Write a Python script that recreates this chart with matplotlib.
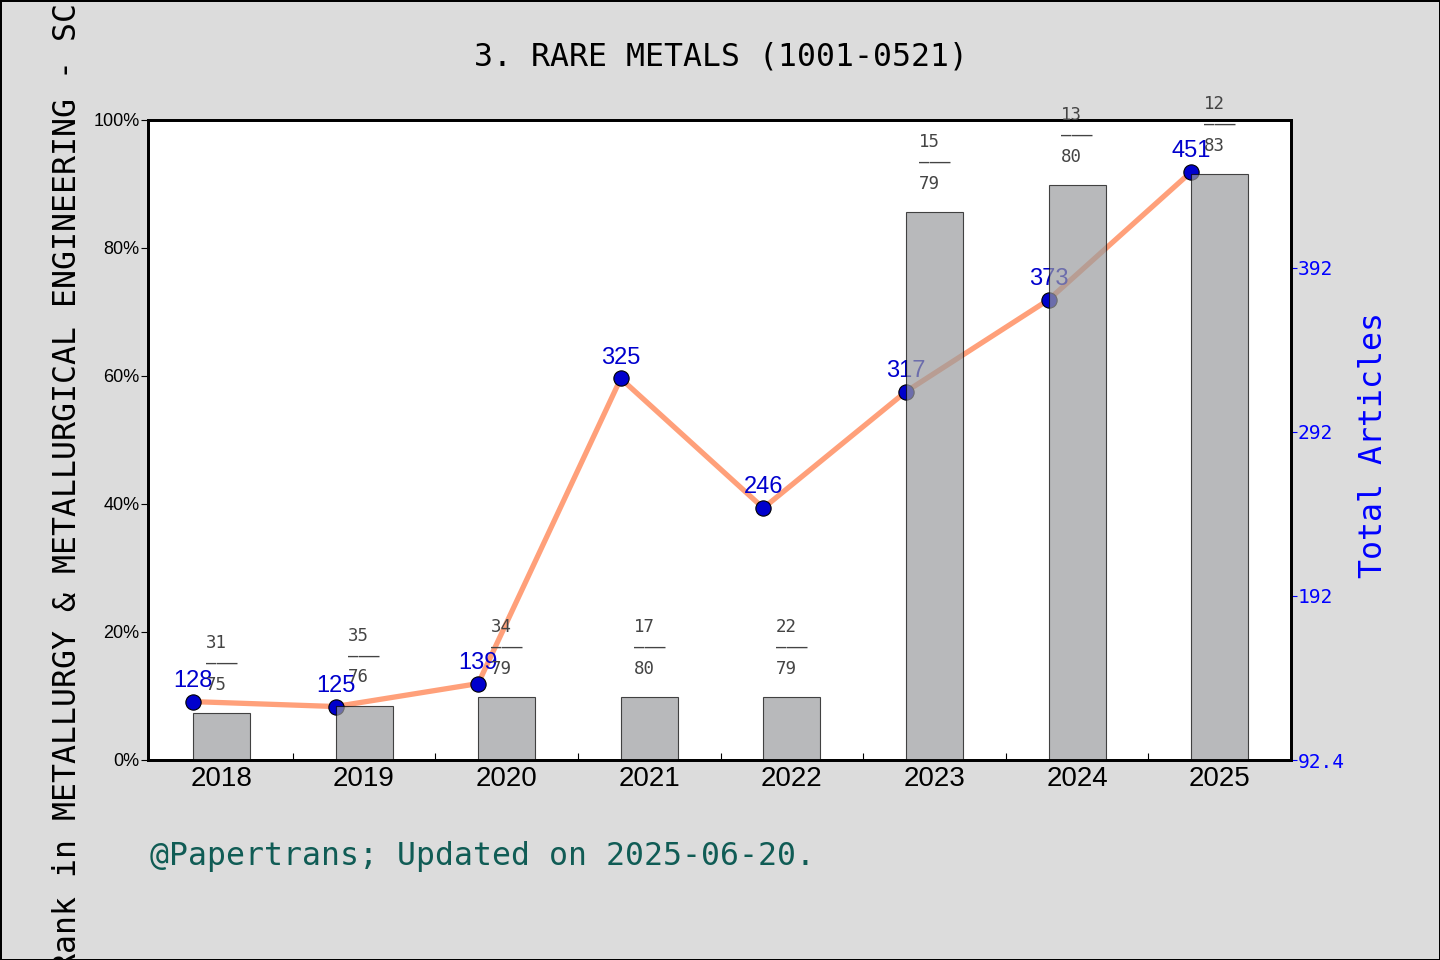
import numpy as np
import matplotlib.pyplot as plt

# chart data
years = ['2018', '2019', '2020', '2021', '2022', '2023', '2024', '2025']
rank_pct = [7.3, 8.5, 9.8, 9.8, 9.8, 85.6, 89.8, 91.5]
ranks = [31, 35, 34, 17, 22, 15, 13, 12]
totals_in_cat = [75, 76, 79, 80, 79, 79, 80, 83]
articles = [128, 125, 139, 325, 246, 317, 373, 451]

right_ticks = [92.4, 192.4, 292.4, 392.4]
right_labels = ['92.4', '192', '292', '392']

title = '3. RARE METALS (1001-0521)'
left_label = 'Rank in METALLURGY & METALLURGICAL ENGINEERING - SCIE'
footer = '@Papertrans; Updated on 2025-06-20.'

mono = 'DejaVu Sans Mono'
sans = 'Liberation Sans'

fig = plt.figure(figsize=(14.4, 9.6), dpi=100, facecolor='#dcdcdc')
fig.patch.set_edgecolor('black')
fig.patch.set_linewidth(2)

ax1 = fig.add_axes([148 / 1440, 200 / 960, 1143 / 1440, 640 / 960])
ax2 = ax1.twinx()

# bars above the line, white background from ax2
ax1.set_zorder(ax2.get_zorder() + 1)
ax1.patch.set_visible(False)
ax2.patch.set_visible(True)
ax2.patch.set_facecolor('white')

x = np.arange(len(years))

# line of total articles (right axis)
ax2.plot(x - 0.2, articles, color='#ffa07a', lw=3.8, zorder=2)
ax2.plot(x - 0.2, articles, 'o', ms=11, mfc='#0000cd', mec='black', mew=0.8, zorder=3)
for xi, v in zip(x, articles):
    ax2.annotate(str(v), (xi - 0.2, v), xytext=(0, 7), textcoords='offset points',
                 ha='center', va='bottom', color='#0000cd', fontsize=17, family=sans)
ax2.set_ylim(92.4, 482.6)
ax2.set_yticks(right_ticks)
ax2.set_yticklabels(right_labels, family=mono, fontsize=14)
ax2.tick_params(axis='y', colors='blue', length=4, pad=1, direction='out')

# bars of rank percentage (left axis)
ax1.bar(x, rank_pct, width=0.4, color='#9b9c9e', alpha=0.7, edgecolor='black', linewidth=0.8)
for xi, v, r, t in zip(x, rank_pct, ranks, totals_in_cat):
    ax1.annotate(f'{r}\n–––\n{t}', (xi, v), xytext=(0, 14), textcoords='offset points',
                 ha='center', va='bottom', multialignment='left', color='#444444',
                 fontsize=12.5, family=mono, annotation_clip=False, zorder=5)
ax1.set_ylim(0, 100)
ax1.set_yticks([0, 20, 40, 60, 80, 100])
ax1.set_yticklabels(['0%', '20%', '40%', '60%', '80%', '100%'], family=sans, fontsize=13)
ax1.tick_params(axis='y', length=5, pad=1, direction='out')

ax1.set_xlim(-0.515, len(years) - 0.5)
ax1.set_xticks(x[:-1] + 0.5)
ax1.set_xticklabels([])
ax1.set_xticks(x, minor=True)
ax1.set_xticklabels(years, minor=True, family=sans, fontsize=20)
ax1.tick_params(axis='x', which='major', direction='in', length=5)
ax1.tick_params(axis='x', which='minor', length=0, pad=4.5)

for ax in (ax1, ax2):
    for s in ax.spines.values():
        s.set_linewidth(2)

fig.text(721 / 1440, 1 - 57 / 960, title, ha='center', va='center', fontsize=22.7, family=mono)
fig.text(68 / 1440, 1 - 972 / 960, left_label, rotation=90, ha='center', va='bottom',
         fontsize=22.7, family=mono)
fig.text(1373 / 1440, 1 - 445 / 960, 'Total Articles', rotation=90, ha='center', va='center',
         fontsize=22.7, family=mono, color='blue')
fig.text(150 / 1440, 1 - 857 / 960, footer, ha='left', va='center', fontsize=22.7,
         family=mono, color='#105c55')

fig.savefig('out.png', dpi=100, facecolor=fig.get_facecolor(), edgecolor=fig.patch.get_edgecolor())
